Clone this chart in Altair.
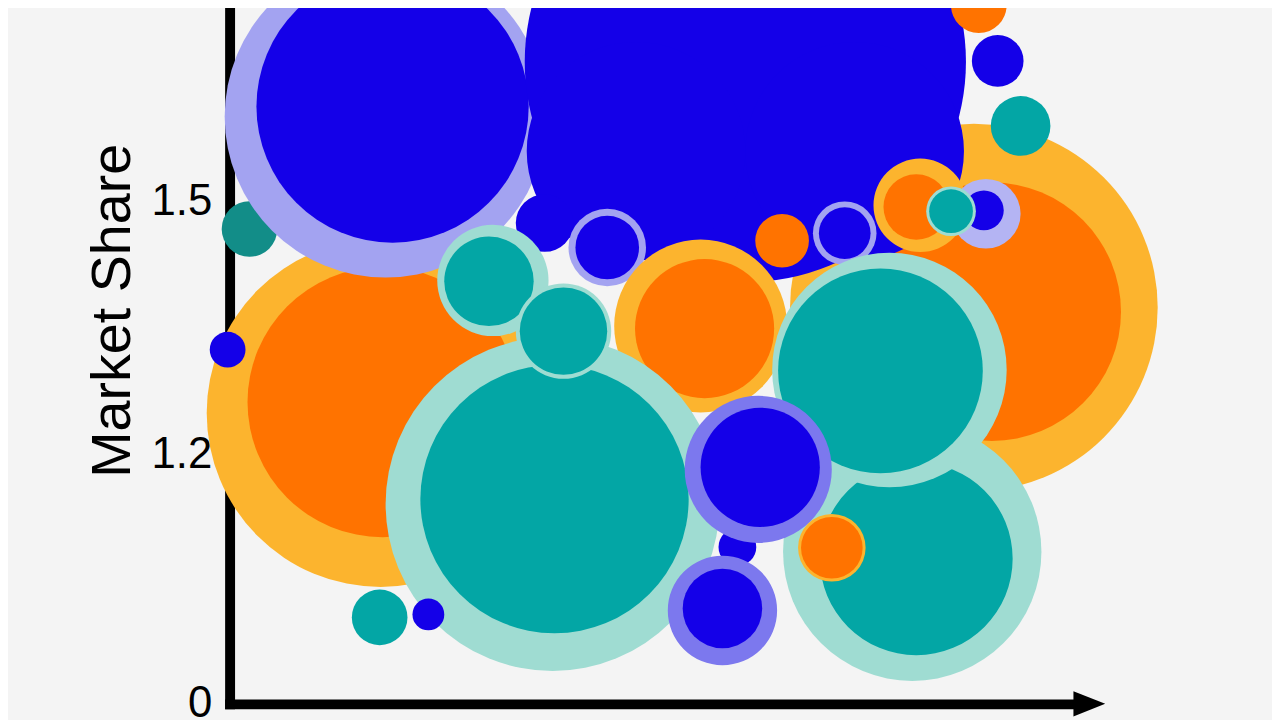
import altair as alt
import pandas as pd

# Bubble discs, drawn in this order (halo first, then core of each bubble)
growth = [1.767, 1.791, 0.233, 1.826, 1.907, 8.709, 8.919, 6.035, 4.756, 7.314,
          3.686, 3.081, 3.035, 4.419, 4.419, 6.465, 7.198, 7.198, 8.081, 8.035,
          8.767, 8.988, 9.256, 8.849, 8.826, 8.442, 8.442, 5.512, 5.558, 7.988,
          8.035, 7.721, 7.616, 3.779, 3.802, 3.907, 3.907, 5.942, 6.186, 6.209,
          5.767, 5.767, 7.047, 7.047, 1.756, 2.326, -0.023]
share = [1.249, 1.262, 1.467, 1.600, 1.612, 1.374, 1.369, 1.665, 1.559, 1.559,
         1.474, 1.406, 1.405, 1.445, 1.445, 1.453, 1.462, 1.462, 1.495, 1.493,
         1.732, 1.666, 1.589, 1.485, 1.489, 1.488, 1.488, 1.352, 1.349, 0.732,
         0.698, 1.300, 1.299, 0.961, 0.985, 1.346, 1.346, 0.755, 1.128, 1.138,
         0.449, 0.459, 0.751, 0.751, 0.416, 0.430, 1.324]
volume = [175, 136, 28, 162, 137, 185, 130, 222, 110, 110,
          29, 56, 45, 39, 32, 27, 32, 26, 47, 33,
          28, 26, 30, 35, 20, 25, 22, 87, 70, 130,
          97, 118, 103, 168, 135, 48, 44, 19, 74, 60,
          55, 40, 34, 31, 28, 16, 18]
tone = ["orange halo", "orange", "teal dark", "blue halo", "blue", "orange halo", "orange",
        "blue", "blue", "blue",
        "blue", "teal halo", "teal", "blue halo", "blue", "orange",
        "blue halo", "blue", "orange halo", "orange", "orange", "blue", "teal",
        "blue pale", "blue", "teal halo", "teal", "orange halo", "orange",
        "teal halo", "teal", "teal halo", "teal", "teal halo", "teal",
        "teal halo", "teal", "blue", "blue halo deep", "blue", "blue halo deep",
        "blue", "orange halo", "orange", "teal", "blue", "blue"]

tone_names = ["blue", "blue halo", "blue halo deep", "blue pale", "orange", "orange halo",
              "teal", "teal halo", "teal dark"]
tone_colors = ["#1400e8", "#a3a3f1", "#7c78ee", "#b4b4f3", "#ff7300", "#fcb42e",
               "#03a6a5", "#9fdcd2", "#128d88"]

y_ticks = [0, 1.2, 1.5]
arrow_x = [10.06]
arrow_y = [0]

df = pd.DataFrame({"growth": growth, "share": share, "volume": volume, "tone": tone,
                   "seq": list(range(len(growth)))})
arrow_df = pd.DataFrame({"growth": arrow_x, "share": arrow_y})

x_scale = alt.Scale(domain=[0, 10], nice=False, zero=False)
y_scale = alt.Scale(domain=[0, 1.2, 1.726], range=[698, 447, 0], nice=False, zero=False)

x_axis = alt.Axis(labels=False, ticks=False, title=None, grid=False, domain=True,
                  domainColor="black", domainWidth=10, domainCap="square")
y_axis = alt.Axis(values=y_ticks, grid=False, ticks=False, tickSize=0, domain=True,
                  domainColor="black", domainWidth=10, domainCap="square",
                  labelExpr="datum.value == 0 ? '0' : format(datum.value, '.1f')",
                  labelFont="Liberation Sans", labelFontSize=44, labelColor="black",
                  labelPadding=18, labelFlush=False, labelOverlap=False,
                  title="Market Share", titleFont="Liberation Sans", titleFontSize=56,
                  titleFontWeight="normal", titleColor="black", titleAngle=270,
                  titleX=-101, titleY=302, titleAlign="center", titleBaseline="alphabetic")

bubbles = alt.Chart(df).mark_circle(opacity=1).encode(
    x=alt.X("growth:Q", scale=x_scale, axis=x_axis),
    y=alt.Y("share:Q", scale=y_scale, axis=y_axis),
    size=alt.Size("volume:Q", scale=alt.Scale(type="pow", exponent=2, domain=[0, 250],
                                              range=[0, 250000]), legend=None),
    color=alt.Color("tone:N", scale=alt.Scale(domain=tone_names, range=tone_colors), legend=None),
    order=alt.Order("seq:Q"),
)

arrow = alt.Chart(arrow_df).mark_point(
    shape="M-1,-0.8L1,0L-1,0.8Z", filled=True, color="black", opacity=1, size=1024
).encode(
    x=alt.X("growth:Q", scale=x_scale, axis=x_axis),
    y=alt.Y("share:Q", scale=y_scale, axis=y_axis),
)

chart = alt.layer(bubbles, arrow).properties(
    width=860, height=698,
    autosize=alt.AutoSizeParams(type="none"),
    padding={"left": 223, "top": 0, "right": 189, "bottom": 14},
    background="#f4f4f4",
).configure_view(strokeWidth=0)

chart.save("out.html", embed_options={"renderer": "svg", "actions": False})
